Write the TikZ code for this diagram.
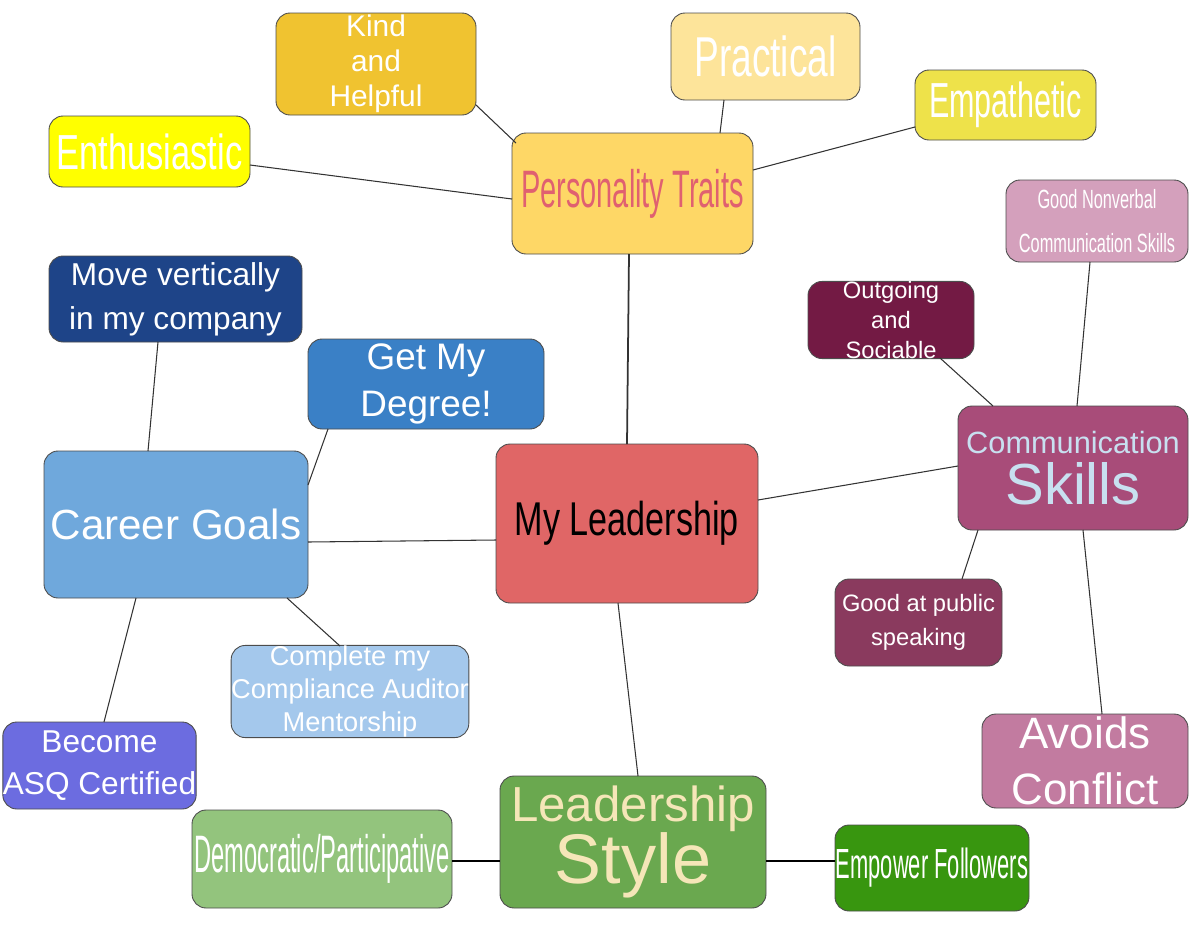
\documentclass[tikz,border=0pt]{standalone}
\usepackage{fontspec}
\setmainfont{Liberation Sans}
\begin{document}
\begin{tikzpicture}[x=0.02cm,y=-0.02cm,
 bx/.style={draw=black!70,rounded corners=8pt,align=center,inner sep=0pt,text=white,line width=0.5pt},
 ln/.style={draw=black!80,line width=0.6pt},
 tk/.style={draw=black,line width=1.6pt}]
\useasboundingbox (0,0) rectangle (1200,927);
\def\B#1#2#3#4#5#6#7#8{\node[bx,fill=#6,#7,minimum width=(#3-#1)*0.02cm,minimum height=(#4-#2)*0.02cm] (#5) at ({(#1+#3)/2},{(#2+#4)/2}) {#8};}
\definecolor{c1}{HTML}{F0C330}\definecolor{c2}{HTML}{FDE49A}\definecolor{c3}{HTML}{EEE24A}
\definecolor{c4}{HTML}{FFFF00}\definecolor{c5}{HTML}{FED766}\definecolor{c6}{HTML}{D4A0BC}
\definecolor{c7}{HTML}{1E4488}\definecolor{c8}{HTML}{731A44}\definecolor{c9}{HTML}{3A80C6}
\definecolor{c10}{HTML}{A84C79}\definecolor{c11}{HTML}{6FA8DC}\definecolor{c12}{HTML}{E06666}
\definecolor{c13}{HTML}{8A3A5E}\definecolor{c14}{HTML}{A4C8EC}\definecolor{c15}{HTML}{6C6CE0}
\definecolor{c16}{HTML}{C27BA0}\definecolor{c17}{HTML}{6AA84F}\definecolor{c18}{HTML}{93C47D}
\definecolor{c19}{HTML}{38960F}
\definecolor{tp}{HTML}{E06070}\definecolor{tc}{HTML}{C8E0F0}\definecolor{ts}{HTML}{F5E6B8}
\B{276}{13}{476}{115}{kind}{c1}{font={\fontsize{17}{20}\selectfont}}{Kind\\and\\Helpful}
\B{671}{13}{860}{100}{prac}{c2}{font={\fontsize{32}{36}\selectfont}}{\scalebox{0.66}[1]{Practical}}
\B{915}{70}{1096}{140}{emp}{c3}{font={\fontsize{28}{32}\selectfont}}{\scalebox{0.62}[1]{Empathetic}}
\B{49}{116}{250}{187}{enth}{c4}{font={\fontsize{28}{32}\selectfont}}{\scalebox{0.7}[1]{Enthusiastic}}
\B{512}{133}{753}{254}{pers}{c5}{text=tp,font={\fontsize{30}{34}\selectfont}}{\scalebox{0.55}[1]{Personality Traits}}
\B{1006}{180}{1188}{262}{nonv}{c6}{font={\fontsize{15}{25}\selectfont}}{\scalebox{0.62}[1]{Good Nonverbal}\\\scalebox{0.62}[1]{Communication Skills}}
\B{49}{256}{302}{342}{move}{c7}{font={\fontsize{18}{25}\selectfont}}{Move vertically\\in my company}
\B{808}{282}{974}{358}{out}{c8}{font={\fontsize{13.5}{17}\selectfont}}{Outgoing\\and\\Sociable}
\B{308}{339}{544}{429}{deg}{c9}{font={\fontsize{21}{27}\selectfont}}{Get My\\Degree!}
\B{958}{406}{1188}{530}{comm}{c10}{text=tc,font={\fontsize{17.5}{24}\selectfont}}{Communication\\[4pt]{\fontsize{33}{33}\selectfont Skills}}
\B{44}{451}{308}{598}{car}{c11}{font={\fontsize{24}{28}\selectfont}}{Career Goals}
\B{496}{444}{758}{603}{my}{c12}{text=black,font={\fontsize{27}{32}\selectfont}}{\scalebox{0.72}[1]{My Leadership}}
\B{835}{579}{1002}{666}{pub}{c13}{font={\fontsize{13.5}{19}\selectfont}}{Good at public\\speaking}
\B{232}{646}{468}{737}{comp}{c14}{font={\fontsize{15.5}{19}\selectfont}}{Complete my\\Compliance Auditor\\Mentorship}
\B{9}{722}{190}{809}{asq}{c15}{font={\fontsize{18}{24}\selectfont}}{Become\\ASQ Certified}
\B{982}{714}{1188}{808}{avoid}{c16}{font={\fontsize{25}{32}\selectfont}}{Avoids\\Conflict}
\B{500}{776}{766}{908}{style}{c17}{text=ts,font={\fontsize{28}{30}\selectfont}}{Leadership\\{\fontsize{40}{40}\selectfont Style}}
\B{192}{810}{452}{908}{demo}{c18}{font={\fontsize{30}{34}\selectfont}}{\scalebox{0.45}[1]{Democratic/Participative}}
\B{835}{825}{1029}{911}{empw}{c19}{font={\fontsize{24}{28}\selectfont}}{\scalebox{0.52}[1]{Empower Followers}}
\draw[ln] (476,105) coordinate (k1) -- (516,143) coordinate (k2);
\draw[ln] (724,100) coordinate (p1) -- (720,133) coordinate (p2);
\draw[ln] (915,127) coordinate (e1) -- (753,170) coordinate (e2);
\draw[ln] (250,165) coordinate (n1) -- (512,199) coordinate (n2);
\draw[ln,line width=1pt] (629,254) coordinate (t1) -- (627,444) coordinate (t2);
\draw[ln] (1090,262) coordinate (v1) -- (1077,406) coordinate (v2);
\draw[ln] (940,358) coordinate (o1) -- (993,406) coordinate (o2);
\draw[ln] (758,500) coordinate (m1) -- (958,466) coordinate (m2);
\draw[ln] (978,530) coordinate (s1) -- (962,579) coordinate (s2);
\draw[ln] (1083,530) coordinate (a1) -- (1102,714) coordinate (a2);
\draw[ln] (308,542) coordinate (g1) -- (496,540) coordinate (g2);
\draw[ln] (158,342) coordinate (mv1) -- (148,451) coordinate (mv2);
\draw[ln] (328,429) coordinate (d1) -- (308,485) coordinate (d2);
\draw[ln] (287,598) coordinate (c1a) -- (340,646) coordinate (c1b);
\draw[ln] (136,598) coordinate (q1) -- (104,722) coordinate (q2);
\draw[ln] (618,603) coordinate (l1) -- (638,776) coordinate (l2);
\draw[tk] (452,861) coordinate (dm1) -- (500,861) coordinate (dm2);
\draw[tk] (766,861) coordinate (ef1) -- (835,861) coordinate (ef2);
\end{tikzpicture}
\end{document}
